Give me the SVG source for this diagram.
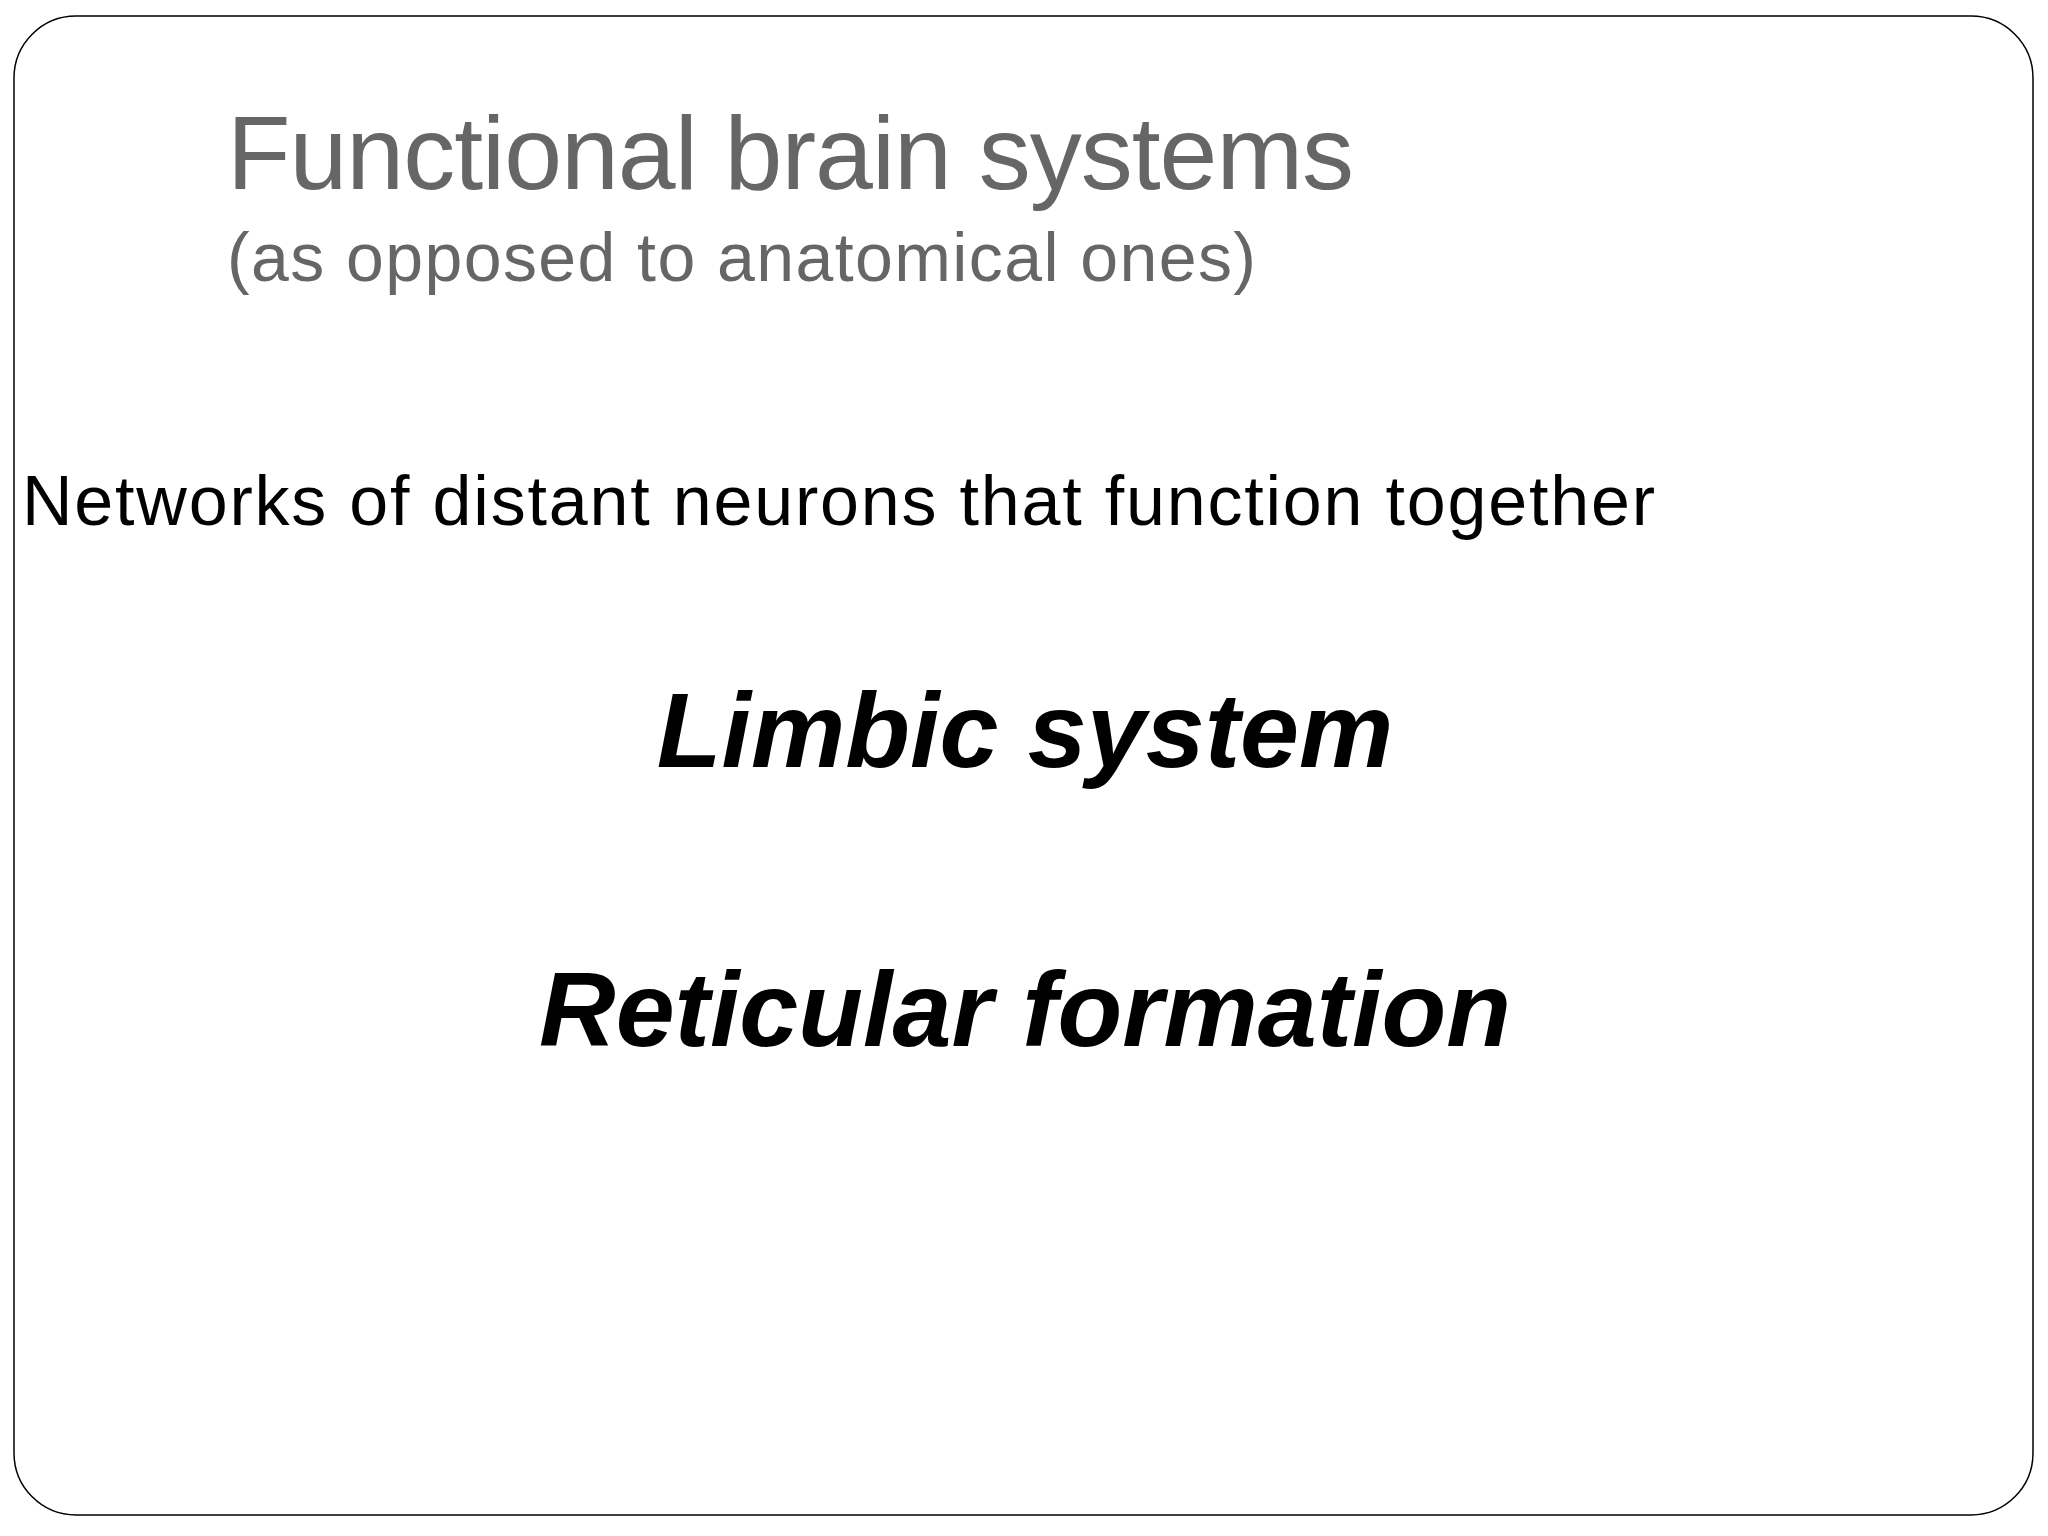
<svg xmlns="http://www.w3.org/2000/svg" width="2048" height="1536" viewBox="0 0 2048 1536">
<style>
text{font-family:"Liberation Sans",Arial,sans-serif}
.g{fill:#666666}
.b{fill:#000;font-weight:bold;font-style:italic;font-size:106px;text-anchor:middle}
</style>
<rect x="0" y="0" width="2048" height="1536" fill="#fff"/>
<rect x="14" y="16" width="2019" height="1499" rx="62" fill="#fff" stroke="#000" stroke-width="1.5"/>
<g id="title"><text class="g" x="227" y="189" font-size="104" textLength="1127">Functional brain systems</text></g>
<g id="subtitle"><text class="g" x="227" y="281" font-size="68" textLength="1029">(as opposed to anatomical ones)</text></g>
<g id="networks"><text x="22" y="525" font-size="70" fill="#000" textLength="1633">Networks of distant neurons that function together</text></g>
<g id="limbic"><text class="b" x="1025" y="767">Limbic system</text></g>
<g id="reticular"><text class="b" x="1025" y="1046">Reticular formation</text></g>
</svg>
